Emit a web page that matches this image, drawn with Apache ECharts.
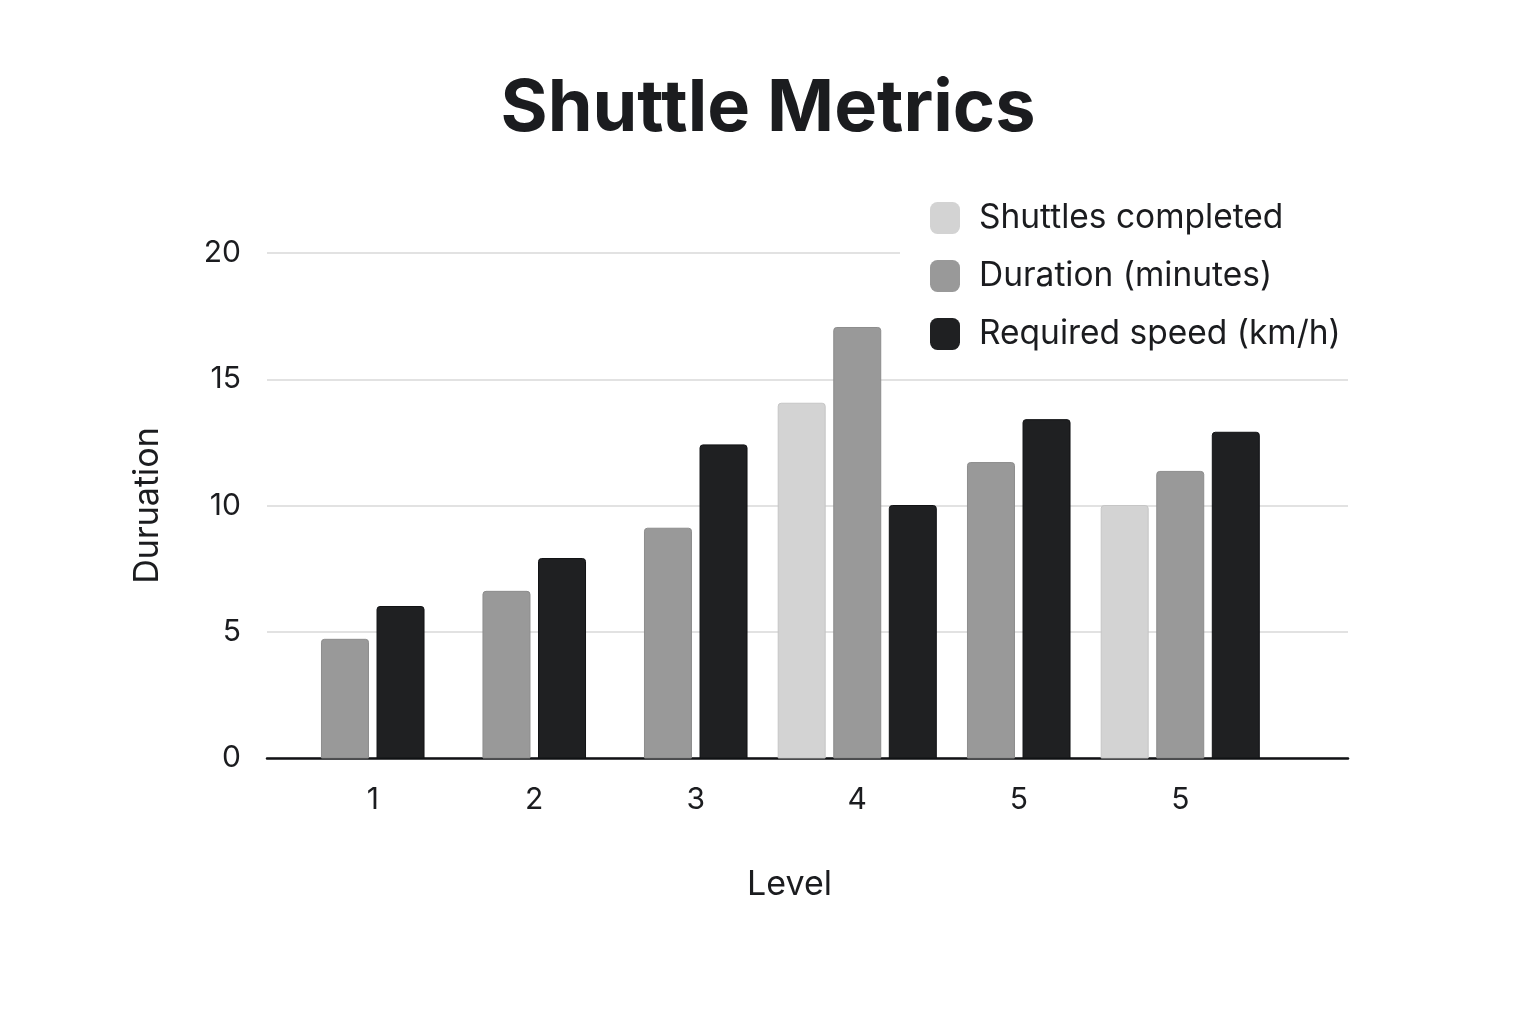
<!DOCTYPE html>
<html>
<head>
<meta charset="utf-8">
<title>Shuttle Metrics</title>
<script src="https://cdn.jsdelivr.net/npm/echarts@6/dist/echarts.min.js"></script>
<style>
  html, body { margin: 0; padding: 0; background: #ffffff; }
  #chart { width: 1536px; height: 1024px; }
</style>
</head>
<body>
<div id="chart"></div>
<script>
// values
const levels = ['1', '2', '3', '4', '5', '5']
const shuttlesCompleted = [null, null, null, 14.05, null, 10.0]
const duration = [4.7, 6.6, 9.1, 17.05, 11.7, 11.35]
const requiredSpeed = [6.0, 7.9, 12.4, 10.0, 13.4, 12.9]
const yTicks = [0, 5, 10, 15, 20]

const seriesNames = ['Shuttles completed', 'Duration (minutes)', 'Required speed (km/h)']
const seriesValues = [shuttlesCompleted, duration, requiredSpeed]
const fills = ['#d3d3d3', '#999999', '#1f2022']
const borders = ['#c6c6c6', '#8c8c8c', '#111214']

const FONT = 'Inter, "Noto Sans", sans-serif'
const TEXT = '#1b1c1f'

// bars of a level are packed together and centred on the level label,
// a missing value takes no room
function renderBar(k) {
  return function (params, api) {
    const idx = api.value(0)
    const val = api.value(1)
    const present = []
    seriesValues.forEach((arr, i) => {
      if (arr[idx] != null) present.push(i)
    })
    const n = present.length
    const pos = present.indexOf(k)
    const band = api.size([1, 0])[0]
    const bw = band * 0.291
    const gap = band * 0.053
    const base = api.coord([idx, 0])
    const top = api.coord([idx, val])
    const x = base[0] - (n * bw + (n - 1) * gap) / 2 + pos * (bw + gap)
    return {
      type: 'rect',
      shape: { x: x, y: top[1], width: bw, height: base[1] - top[1], r: [3, 3, 0, 0] },
      style: { fill: fills[k], stroke: borders[k], lineWidth: 1 }
    }
  }
}

const series = seriesNames.map((name, k) => ({
  name: name,
  type: 'custom',
  xAxisIndex: 1,
  yAxisIndex: 1,
  itemStyle: { color: fills[k] },
  renderItem: renderBar(k),
  encode: { x: 0, y: 1 },
  data: seriesValues[k]
    .map((v, i) => (v == null ? null : [i, v]))
    .filter(d => d !== null)
}))

const chart = echarts.init(document.getElementById('chart'))
chart.setOption({
  backgroundColor: '#ffffff',
  animation: false,
  title: {
    text: 'Shuttle Metrics',
    left: 'center',
    top: 73,
    padding: 0,
    textStyle: { fontFamily: FONT, fontSize: 72, fontWeight: 'bold', color: TEXT }
  },
  legend: {
    orient: 'vertical',
    left: 900,
    top: 191,
    padding: [10, 40, 10, 30],
    backgroundColor: '#ffffff',
    itemWidth: 30,
    itemHeight: 32,
    itemGap: 24,
    icon: 'roundRect',
    data: seriesNames,
    textStyle: { fontFamily: FONT, fontSize: 33.5, color: TEXT, padding: [0, 0, 0, 14] }
  },
  grid: [
    { left: 267, right: 188, top: 253, bottom: 266 },
    { left: 292, right: 275, top: 253, bottom: 266 }
  ],
  xAxis: [
    {
      gridIndex: 0,
      type: 'value',
      min: 0,
      max: 1,
      axisLine: { show: true, onZero: true, lineStyle: { color: '#111214', width: 2.5 } },
      axisTick: { show: false },
      axisLabel: { show: false },
      splitLine: { show: false }
    },
    {
      gridIndex: 1,
      type: 'category',
      data: levels,
      axisLine: { show: false },
      axisTick: { show: false },
      axisLabel: { margin: 27, fontFamily: FONT, fontSize: 30, color: TEXT },
      name: 'Level',
      nameLocation: 'middle',
      nameGap: 110,
      nameTextStyle: { fontFamily: FONT, fontSize: 34, color: TEXT, padding: [0, 0, 0, 26] }
    }
  ],
  yAxis: [
    {
      gridIndex: 0,
      type: 'value',
      min: 0,
      max: 20,
      interval: 5,
      axisLine: { show: false },
      axisTick: { show: false },
      axisLabel: {
        margin: 26,
        fontFamily: FONT,
        fontSize: 30,
        color: TEXT,
        formatter: v => (yTicks.indexOf(v) >= 0 ? String(v) : '')
      },
      splitLine: { lineStyle: { color: '#d9d9d9', width: 1.5 } },
      name: 'Duruation',
      nameLocation: 'middle',
      nameGap: 102,
      nameTextStyle: { fontFamily: FONT, fontSize: 34, color: TEXT }
    },
    {
      gridIndex: 1,
      type: 'value',
      min: 0,
      max: 20,
      show: false
    }
  ],
  series: series
})
</script>
</body>
</html>
